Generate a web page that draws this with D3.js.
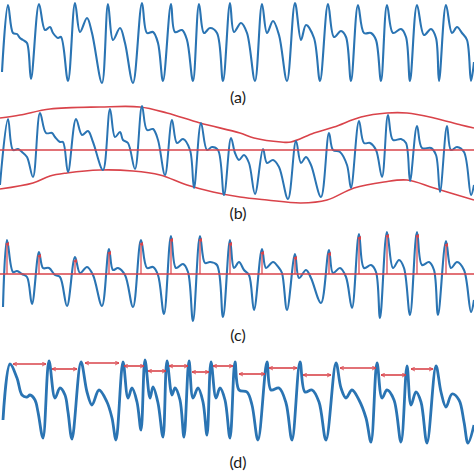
<!DOCTYPE html>
<html><head><meta charset="utf-8">
<script src="https://cdn.jsdelivr.net/npm/d3@7"></script>
<style>html,body{margin:0;padding:0;background:#fff;}svg{display:block;}</style>
</head><body>
<svg id="chart" width="474" height="474"></svg>
<script>
// ---- data: [sample, amplitude] key points ----
const signalA = [[2,13],[8,80],[13,52],[17,51],[20,47],[23,45],[27,42],[31,6],[39,81],[45,55],[50,58],[53,52],[58,47],[61,48],[68,4],[75,82],[80,53],[87,67],[92,52],[102,2],[108,81],[113,45],[120,57],[125,42],[133,2],[142,82],[147,52],[153,53],[158,42],[163,4],[171,81],[175,53],[182,55],[187,45],[193,4],[199,81],[204,52],[210,57],[217,52],[223,4],[230,82],[234,53],[241,62],[247,52],[255,4],[262,81],[267,52],[273,64],[279,50],[287,4],[295,82],[301,45],[306,60],[314,47],[320,4],[328,81],[334,48],[341,54],[346,48],[351,4],[358,80],[364,52],[371,52],[376,45],[381,4],[387,80],[393,52],[401,56],[406,48],[410,4],[417,80],[424,50],[431,56],[436,47],[439,4],[446,80],[452,52],[457,58],[462,52],[467,45],[471,4],[474,23]];

const signalB = [[0,25],[8,91],[13,60],[18,61],[22,58],[27,53],[33,33],[40,97],[46,77],[52,77],[55,73],[60,68],[63,68],[68,38],[76,91],[82,75],[88,79],[93,68],[103,40],[110,101],[115,73],[120,78],[123,70],[128,67],[135,41],[142,104],[147,80],[153,81],[158,70],[165,35],[172,90],[177,67],[183,71],[190,60],[194,22],[201,87],[207,60],[212,63],[218,60],[224,15],[231,72],[235,57],[239,50],[244,55],[249,47],[255,16],[263,61],[267,47],[273,50],[279,43],[288,11],[296,69],[301,47],[306,53],[311,45],[321,13],[329,77],[333,60],[340,58],[347,45],[351,22],[359,89],[364,67],[370,67],[376,60],[382,33],[388,95],[393,70],[401,71],[406,67],[410,29],[417,84],[422,62],[431,62],[436,55],[440,18],[447,84],[451,60],[457,63],[464,58],[471,15],[474,25]];
const upperEnvB = [[0,92],[20,95],[50,101],[100,103],[140,103],[167,97],[200,87],[240,77],[254,72],[281,68],[291,68],[314,77],[334,83],[361,93],[387,97],[407,97],[434,92],[461,85],[474,82]];
const lowerEnvB = [[0,21],[33,27],[50,34],[67,37],[100,40],[133,39],[160,35],[187,25],[213,18],[240,13],[267,10],[301,7],[327,10],[354,22],[384,28],[407,30],[434,22],[474,10]];
const meanB = 60;

const signalC = [[3,23],[7,90],[13,58],[17,59],[22,56],[27,53],[32,26],[39,78],[43,62],[49,62],[55,55],[60,53],[67,24],[75,73],[80,57],[87,63],[93,55],[102,24],[109,81],[113,60],[118,62],[125,55],[133,23],[141,90],[147,62],[153,63],[158,55],[164,16],[171,94],[176,62],[183,66],[188,58],[193,9],[200,94],[205,67],[210,68],[217,65],[223,13],[230,90],[234,62],[239,68],[244,60],[249,55],[254,20],[262,81],[266,62],[273,68],[279,62],[282,57],[287,20],[295,76],[299,52],[306,60],[311,52],[321,27],[329,80],[333,57],[340,62],[346,53],[352,22],[359,96],[364,62],[371,65],[376,58],[380,12],[387,98],[393,62],[399,70],[404,62],[410,15],[417,98],[422,65],[429,68],[434,60],[438,15],[446,89],[451,62],[457,68],[464,60],[471,18],[474,30]];
const baselineC = 56;
const peakSamplesC = [7,39,75,109,141,171,200,230,262,295,329,359,387,417,446];

const signalD = [[3,30],[10,86],[17,72],[22,55],[27,53],[30,55],[35,50],[38,38],[43,12],[49,89],[55,52],[60,62],[65,55],[68,38],[72,11],[81,88],[87,58],[92,45],[99,60],[107,48],[112,32],[116,10],[123,88],[128,52],[132,62],[137,48],[141,20],[145,90],[150,52],[153,63],[158,47],[163,13],[167,89],[172,55],[175,62],[180,50],[184,13],[189,89],[193,52],[198,62],[203,48],[207,15],[211,88],[216,52],[220,62],[225,50],[230,12],[235,88],[239,60],[247,58],[252,45],[258,10],[267,88],[271,60],[279,62],[286,47],[292,10],[300,88],[305,58],[312,60],[319,48],[326,10],[336,87],[341,62],[346,52],[352,60],[359,50],[366,32],[371,8],[377,87],[382,52],[387,60],[394,50],[401,8],[407,84],[411,45],[416,58],[421,48],[427,7],[436,84],[441,58],[446,43],[452,56],[459,50],[464,28],[468,7],[474,25]];
// intervals between peaks: [start sample, end sample, level]
const intervalsD = [[13,46,86],[52,77,81],[85,119,87],[124,144,84],[148,166,79],[169,188,84],[192,209,78],[213,233,84],[239,265,76],[269,297,82],[303,331,75],[340,376,82],[381,406,75],[411,433,81]];

const panelLabels = ["(a)","(b)","(c)","(d)"];

// ---- drawing ----
const W = 474, H = 474;
const BLUE = "#2a74b3", RED = "#d9434a";
const svg = d3.select("#chart");
const x = d3.scaleLinear().domain([0, 474]).range([0, W]);

const defs = svg.append("defs");
defs.append("marker").attr("id","arr").attr("viewBox","0 0 10 10")
  .attr("refX", 9).attr("refY", 5).attr("markerWidth", 5).attr("markerHeight", 5)
  .attr("markerUnits","userSpaceOnUse").attr("orient","auto-start-reverse")
  .append("path").attr("d","M1,1 L9,5 L1,9").attr("fill","none").attr("stroke",RED).attr("stroke-width",1.6);
defs.append("marker").attr("id","tip").attr("viewBox","0 0 10 10")
  .attr("refX",5).attr("refY",5).attr("markerWidth",4).attr("markerHeight",4)
  .attr("markerUnits","userSpaceOnUse").attr("orient","auto")
  .append("path").attr("d","M0,10 L5,0 L10,10 Z").attr("fill",RED);

function yScale(bottom, span){ return d3.scaleLinear().domain([0, span]).range([bottom, bottom - span]); }
function lineGen(y, curve){ return d3.line().x(d=>x(d[0])).y(d=>y(d[1])).curve(curve || d3.curveCatmullRom.alpha(0.5)); }

// panel a
const ya = yScale(85, 85);
svg.append("path").datum(signalA).attr("d", lineGen(ya)).attr("fill","none").attr("stroke",BLUE).attr("stroke-width",2.1).attr("stroke-linejoin","round");

// panel b
const yb = yScale(210, 110);
svg.append("path").datum(upperEnvB).attr("d", lineGen(yb)).attr("fill","none").attr("stroke",RED).attr("stroke-width",1.6);
svg.append("path").datum(lowerEnvB).attr("d", lineGen(yb)).attr("fill","none").attr("stroke",RED).attr("stroke-width",1.6);
svg.append("path").datum(signalB).attr("d", lineGen(yb)).attr("fill","none").attr("stroke",BLUE).attr("stroke-width",2).attr("stroke-linejoin","round");
svg.append("line").attr("x1",x(0)).attr("x2",x(474)).attr("y1",yb(meanB)).attr("y2",yb(meanB)).attr("stroke",RED).attr("stroke-width",1.6);

// panel c
const yc = yScale(330, 110);
svg.append("path").datum(signalC).attr("d", lineGen(yc)).attr("fill","none").attr("stroke",BLUE).attr("stroke-width",2.1).attr("stroke-linejoin","round");
svg.append("line").attr("x1",x(0)).attr("x2",x(474)).attr("y1",yc(baselineC)).attr("y2",yc(baselineC)).attr("stroke",RED).attr("stroke-width",1.6);
const peaksC = peakSamplesC.map(t => signalC.find(p => p[0] === t));
svg.selectAll("line.pk").data(peaksC).join("line").attr("class","pk")
  .attr("x1",d=>x(d[0])).attr("x2",d=>x(d[0]))
  .attr("y1",yc(baselineC)).attr("y2",d=>yc(d[1]) + 4)
  .attr("stroke",RED).attr("stroke-width",1.2).attr("marker-end","url(#tip)");

// panel d
const yd = yScale(450, 100);
svg.append("path").datum(signalD).attr("d", lineGen(yd)).attr("fill","none").attr("stroke",BLUE).attr("stroke-width",2.8).attr("stroke-linejoin","round");
svg.selectAll("line.iv").data(intervalsD).join("line").attr("class","iv")
  .attr("x1",d=>x(d[0])).attr("x2",d=>x(d[1]))
  .attr("y1",d=>yd(d[2])).attr("y2",d=>yd(d[2]))
  .attr("stroke",RED).attr("stroke-width",1.6)
  .attr("marker-start","url(#arr)").attr("marker-end","url(#arr)");

// labels
const labelY = [97, 213, 335, 462];
svg.selectAll("text.lbl").data(panelLabels).join("text").attr("class","lbl")
  .attr("x", W/2 + 1).attr("y",(d,i)=>labelY[i]).attr("dy","0.35em")
  .attr("text-anchor","middle").attr("font-family","Lato, 'Open Sans', sans-serif")
  .attr("font-size",16).attr("fill","#1a1a1a").text(d=>d);
</script>
</body></html>
